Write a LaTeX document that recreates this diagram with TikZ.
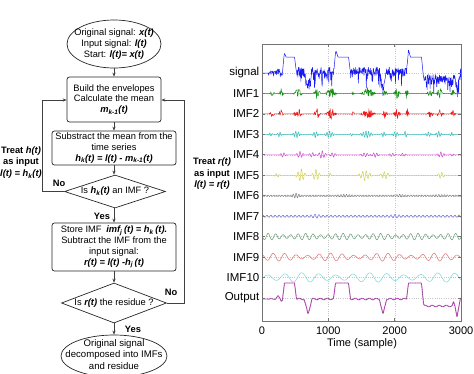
\documentclass[tikz,border=0pt]{standalone}
\usepackage{fontspec}
\setmainfont{Liberation Sans}
\usetikzlibrary{shapes.geometric,arrows.meta}
\newcommand{\bfit}[1]{\textbf{\textit{#1}}}
\newcommand{\lsub}[1]{\textsubscript{#1}}
\definecolor{cSig}{rgb}{0.1,0.1,0.95}
\definecolor{cIa}{rgb}{0.1,0.55,0.1}
\definecolor{cIb}{rgb}{0.95,0.1,0.1}
\definecolor{cIc}{rgb}{0.2,0.75,0.75}
\definecolor{cId}{rgb}{0.8,0.3,0.8}
\definecolor{cIe}{rgb}{0.82,0.82,0.35}
\definecolor{cIf}{rgb}{0.5,0.5,0.5}
\definecolor{cIg}{rgb}{0.45,0.45,0.9}
\definecolor{cIh}{rgb}{0.45,0.65,0.5}
\definecolor{cIi}{rgb}{0.87,0.5,0.5}
\definecolor{cIj}{rgb}{0.55,0.85,0.85}
\definecolor{cOut}{rgb}{0.78,0.3,0.78}
\tikzset{
  declare function={
    tri(\xa,\xb,\xw)=max(0,1-abs(\xa-\xb)/\xw);
    pl(\xa,\xb,\xc,\xr)=min(1,max(0,(\xa-\xb)/\xr))-min(1,max(0,(\xa-\xc)/\xr));
    wv(\xa,\xp)=sin((mod(\xa,\xp)/\xp)*360);
    enva(\xa)=0.5*tri(\xa,272,3)+0.8*tri(\xa,281,3)+tri(\xa,298,5)+0.9*tri(\xa,317,4)+tri(\xa,331,6)+0.5*tri(\xa,353,2)+tri(\xa,368,8)+0.8*tri(\xa,385,3)+0.9*tri(\xa,397,4)+1.2*tri(\xa,407,2)+0.7*tri(\xa,430,4)+0.9*tri(\xa,440,4)+0.6*tri(\xa,453,3);
    envb(\xa)=0.6*tri(\xa,283,4)+0.8*tri(\xa,300,5)+0.6*tri(\xa,312,4)+tri(\xa,322,5)+0.6*tri(\xa,333,4)+0.5*tri(\xa,365,6)+0.6*tri(\xa,375,5)+0.4*tri(\xa,392,5)+0.4*tri(\xa,403,4)+0.7*tri(\xa,441,5)+0.3*tri(\xa,452,3);
    envc(\xa)=0.3*tri(\xa,277,4)+tri(\xa,301,6)+0.9*tri(\xa,316,5)+0.3*tri(\xa,330,3)+0.8*tri(\xa,365,8)+0.6*tri(\xa,385,6)+0.5*tri(\xa,441,5);
    act(\xa)=pl(\xa,296,333,1.5)+pl(\xa,350,406,1.5)+pl(\xa,423,462,1.5)+0.4*pl(\xa,268,282,1);
    trend(\xa)=299-3*tri(\xa,278,2.5)+2*tri(\xa,281.5,1.5)-16*pl(\xa,282.5,294.5,2)+15*tri(\xa,308,4)-16*pl(\xa,333.5,348.5,2)+16*tri(\xa,383,3.5)-16*pl(\xa,406.5,421.5,2)+7*pl(\xa,421.5,452,3)+17*tri(\xa,457,3.5);
  },
  flow/.style={draw=black!85, line width=0.7pt},
  fbox/.style={flow, rectangle, rounded corners=2.5pt, inner sep=0pt, align=center, font=\fontsize{9.3}{10.9}\selectfont},
  ftext/.style={align=center, font=\fontsize{9.3}{10.9}\selectfont, inner sep=0pt},
  conn/.style={draw=black!75, line width=0.6pt, -{Stealth[length=4pt,width=3.2pt]}},
  lbl/.style={font=\fontsize{9.3}{11.5}\selectfont\bfseries, align=center, inner sep=0pt},
  axisbox/.style={draw=black!55, line width=0.7pt},
  gridl/.style={draw=black!22, dotted, line width=0.3pt},
  curve/.style={line width=0.5pt, line join=round},
  ylab/.style={font=\fontsize{11.5}{12}\selectfont, anchor=east, inner sep=0pt},
  xlab/.style={font=\fontsize{11}{12}\selectfont, inner sep=0pt},
}
\begin{document}
\pgfmathsetseed{7}
\begin{tikzpicture}[x=1pt,y=-1pt]
\useasboundingbox (0,0) rectangle (474,373);

% ---------------- flowchart ----------------
\node[flow, ellipse, minimum width=94pt, minimum height=48pt, inner sep=0pt] (start) at (114,44) {};
\node[ftext] (starttxt) at (start) {Original signal: \bfit{x(t)}\\Input signal: \bfit{l(t)}\\Start: \bfit{l(t)= x(t)}};
\node[fbox, minimum width=94pt, minimum height=45pt] (b1) at (114,99.5) {Build the envelopes\\Calculate the mean\\\bfit{m\lsub{k-1}(t)}};
\node[fbox, minimum width=124pt, minimum height=34pt] (b2) at (114,148) {Substract the mean from the\\time series\\\bfit{h\lsub{k}(t) = l(t) - m\lsub{k-1}(t)}};
\node[flow, diamond, minimum width=101pt, minimum height=33pt, inner sep=0pt] (d1) at (115,191.5) {};
\node[ftext] (d1t) at (d1) {Is \bfit{h\lsub{k}(t)} an IMF ?};
\node[fbox, minimum width=124pt, minimum height=48pt] (b3) at (114,247) {Store IMF\enspace\bfit{imf\lsub{j}\,(t) = h\lsub{k}\,(t).}\\Subtract the IMF from the\\input signal:\\\bfit{r(t) = l(t) -h\lsub{j}\,(t)}};
\node[flow, diamond, minimum width=105pt, minimum height=40pt, inner sep=0pt] (d2) at (114,303) {};
\node[ftext] (d2t) at (d2) {Is \bfit{r(t)} the residue ?};
\node[flow, ellipse, minimum width=106pt, minimum height=42pt, inner sep=0pt] (fin) at (114,356) {};
\node[ftext, font=\fontsize{9.6}{11.3}\selectfont] (fint) at (114,354.5) {Original signal\\decomposed into IMFs\\and residue};

\draw[conn] (start.south) -- (b1.north);
\draw[conn] (b1.south) -- (b2.north);
\draw[conn] (b2.south) -- (b2.south |- d1.north);
\draw[conn] (b3.north |- d1.south) -- (b3.north);
\draw[conn] (b3.south) -- (d2.north);
\draw[conn] (d2.south) -- (fin.north);
\coordinate (lpL) at (42,100);
\coordinate (lpR) at (184,100);
\draw[conn] (d1.west) -| (lpL) -- (b1.west |- lpL);
\draw[conn] (d2.east) -| (lpR) -- (b1.east |- lpR);

\node[lbl] (no1) at (59,183) {No};
\node[lbl] (yes1) at (102,216) {Yes};
\node[lbl] (no2) at (171,292) {No};
\node[lbl] (yes2) at (133,329) {Yes};
\node[lbl] (trL) at (21,162.5) {Treat \textit{h(t)}\\as input\\\textit{l(t) = h\lsub{k}(t)}};
\node[lbl] (trR) at (212,174) {Treat \textit{r(t)}\\as input\\\textit{l(t) = r(t)}};

% ---------------- plot ----------------
\foreach \gx in {328.3,394.7} \draw[gridl] (\gx,44) -- (\gx,321);
\foreach \i in {0,...,11} \draw[gridl] (262,{73+20.45*\i}) -- (461,{73+20.45*\i});

\begin{scope}
\clip (262,44) rectangle (461,321);
\draw[curve, cSig] plot[domain=262:461, samples=600] (\x, {trend(\x)-226+act(\x)*(-6+8*abs(rand)+14*abs(rand)^5)-5*tri(\x,284,2)-6*tri(\x,336,2)-7*tri(\x,408.5,2)});
\draw[curve, cIa] plot[domain=262:461, samples=500] (\x, {93.4+6.5*enva(\x)*rand});
\draw[curve, cIb] plot[domain=262:461, samples=500] (\x, {113.9+6.5*enva(\x)*rand});
\draw[curve, cIc] plot[domain=262:461, samples=500] (\x, {134.4+4*enva(\x+1.5)*wv(\x,2.6)});
\draw[curve, cId] plot[domain=262:461, samples=500] (\x, {154.8+4.5*envb(\x)*wv(\x,3.2)});
\draw[curve, cIe] plot[domain=262:461, samples=500] (\x, {175.3+7*envc(\x)*wv(\x,3.6)});
\draw[curve, cIf] plot[domain=262:461, samples=600] (\x, {195.7+(0.7+2.2*tri(\x,296,5)+0.8*tri(\x,345,10)+0.8*tri(\x,400,8)+0.6*tri(\x,440,10))*wv(\x,2.8)});
\draw[curve, cIg] plot[domain=262:461, samples=500] (\x, {216.2+(1.1+1.2*tri(\x,316,6)+0.8*tri(\x,395,8))*wv(\x,4)});
\draw[curve, cIh, line width=0.6pt] plot[domain=262:461, samples=300] (\x, {236.6+3*(0.85+0.25*wv(\x,37))*wv(\x,7.5)});
\draw[curve, cIi, line width=0.6pt] plot[domain=262:461, samples=300] (\x, {257.1+3.8*(0.75+0.3*wv(\x,53))*wv(\x,11.5)});
\draw[curve, cIj, line width=0.6pt] plot[domain=262:461, samples=300] (\x, {277.5+4.5*(0.8+0.25*wv(\x,71))*wv(\x,17)});
\draw[cOut, line width=0.9pt, line join=round] plot[domain=262:461, samples=400] (\x, {trend(\x)+0.8*act(\x)*wv(\x,7)});
\draw[black!70, line width=0.3pt, dash pattern=on 1pt off 1.5pt] plot[domain=262:461, samples=400] (\x, {trend(\x)+0.8*act(\x)*wv(\x,7)});
\end{scope}

\draw[axisbox] (262,44) rectangle (461,321);
\foreach \gx in {262,328.3,394.7,461} {
  \draw[axisbox] (\gx,321) -- (\gx,318);
  \draw[axisbox] (\gx,44) -- (\gx,47);
}
\foreach \i in {0,...,11} {
  \draw[axisbox] (262,{73+20.45*\i}) -- (265,{73+20.45*\i});
  \draw[axisbox] (461,{73+20.45*\i}) -- (458,{73+20.45*\i});
}
\foreach \lab [count=\i from 0] in {signal,IMF1,IMF2,IMF3,IMF4,IMF5,IMF6,IMF7,IMF8,IMF9,IMF10,Output}
  \node[ylab] (yl\i) at (259.5,{73+20.45*\i}) {\lab};
\node[xlab] (xt0) at (262,331) {0};
\node[xlab] (xt1) at (328.3,331) {1000};
\node[xlab] (xt2) at (394.7,331) {2000};
\node[xlab] (xt3) at (461,331) {3000};
\node[xlab] (xtitle) at (362,343.5) {Time (sample)};
\end{tikzpicture}
\end{document}
